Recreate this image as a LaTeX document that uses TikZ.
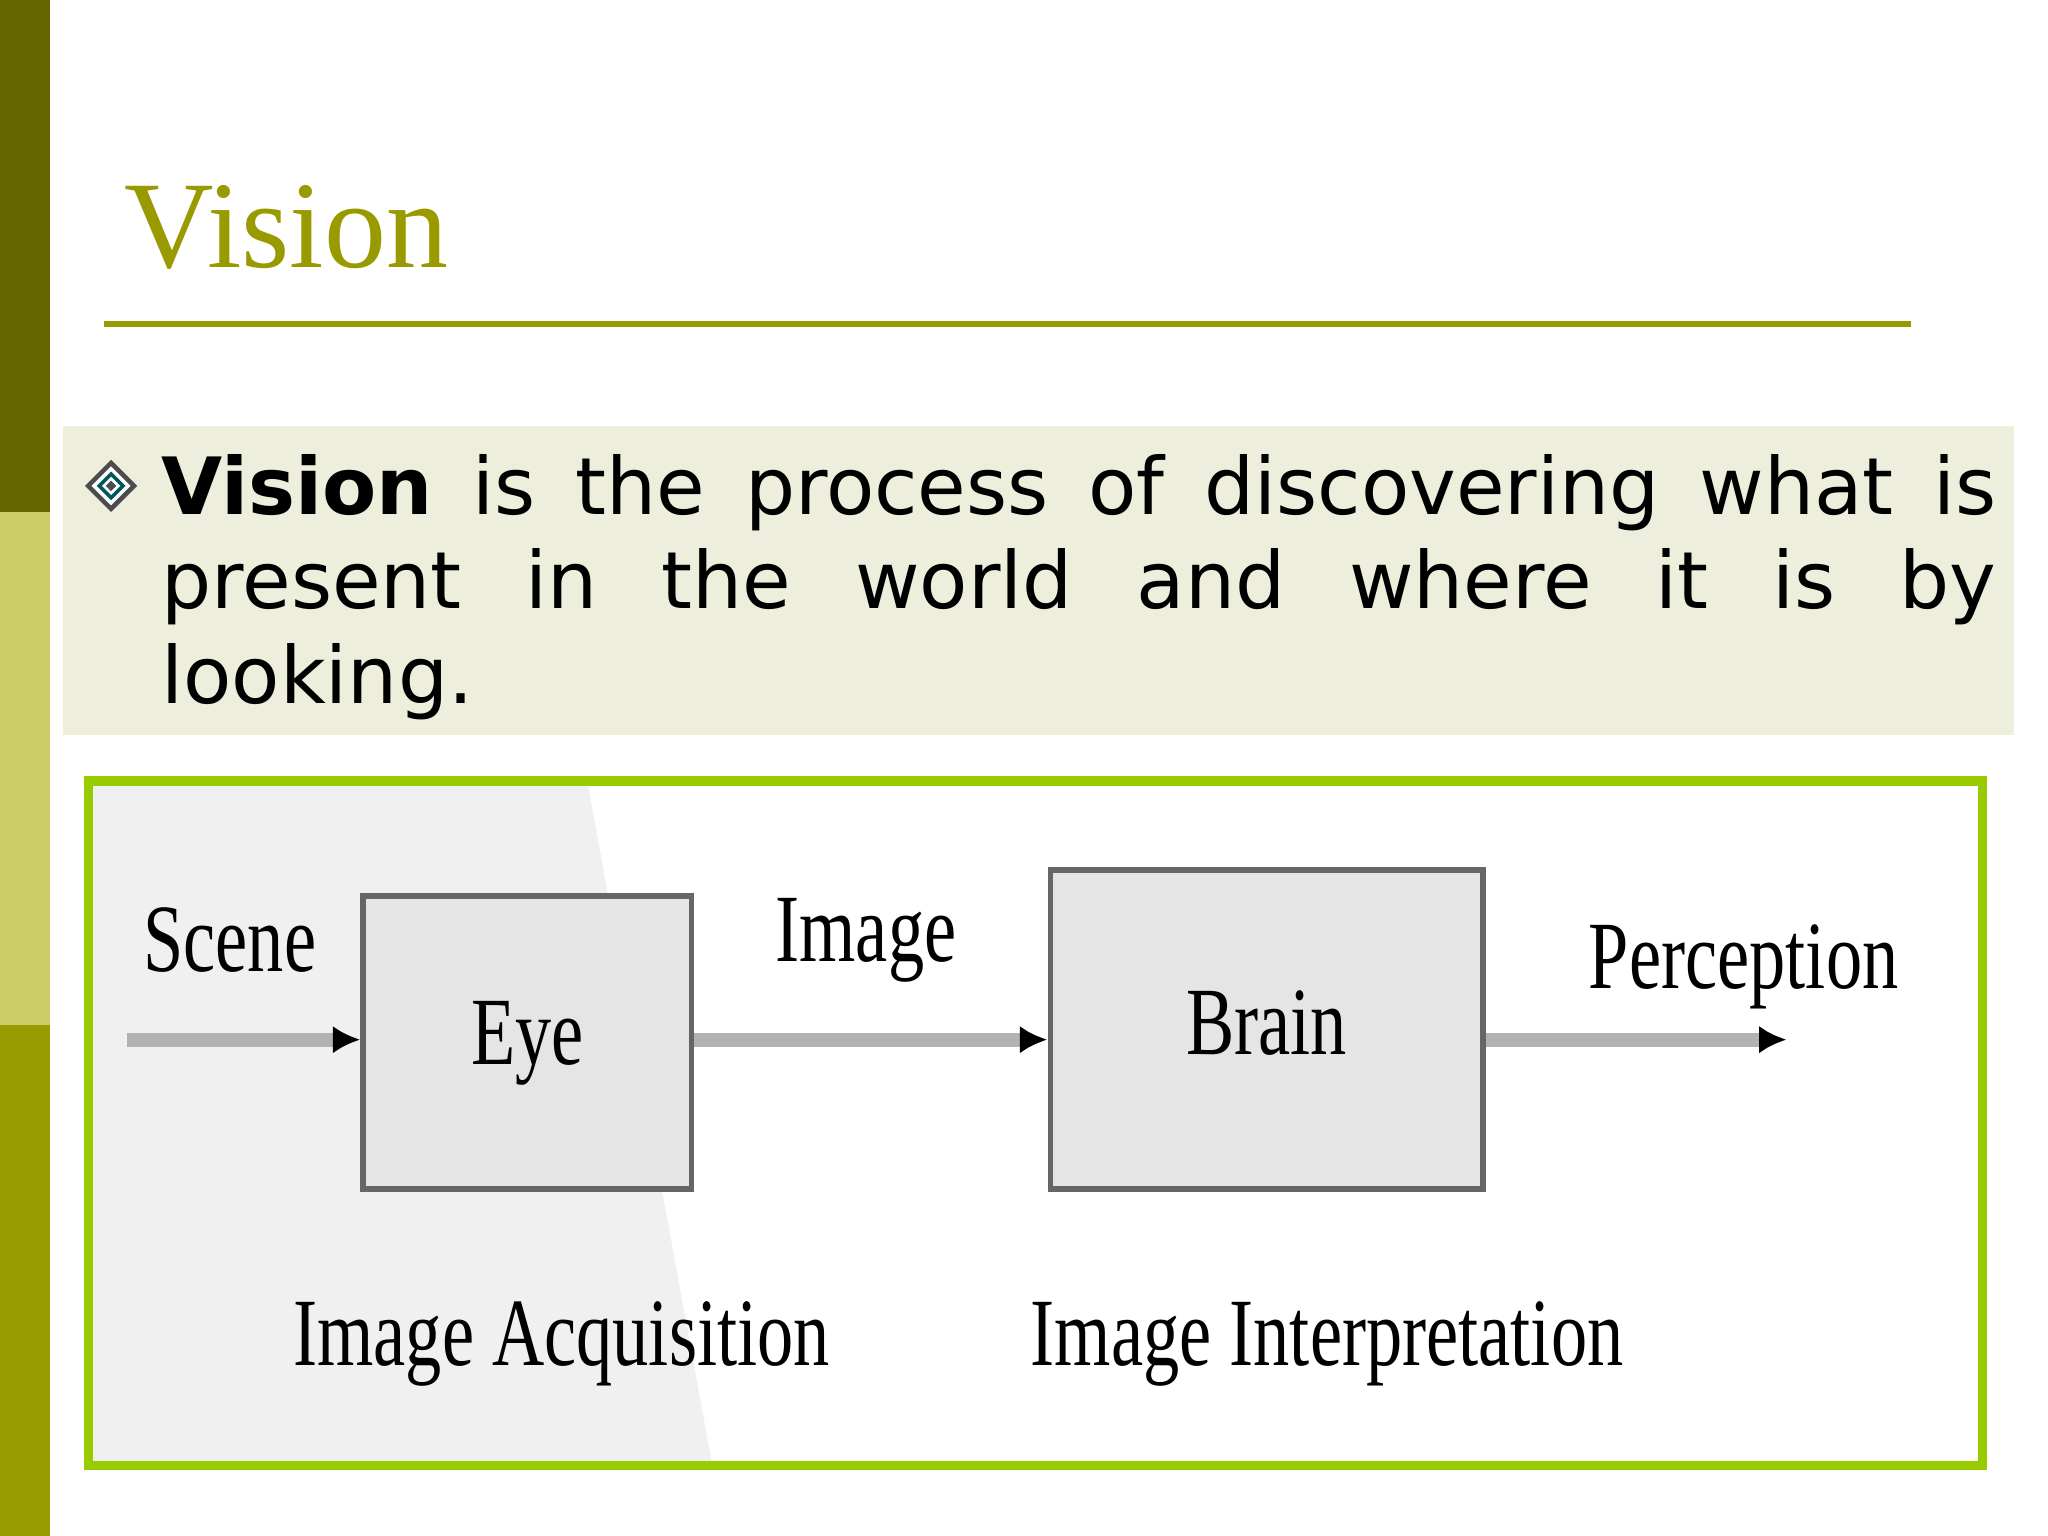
\documentclass[tikz,border=0pt]{standalone}
\usepackage{fontspec}
\setmainfont{Liberation Serif}
\newfontfamily\verd{DejaVu Sans}
\usetikzlibrary{arrows.meta}
\definecolor{olive}{HTML}{999900}
\definecolor{darkolive}{HTML}{666600}
\definecolor{lightolive}{HTML}{CCCC66}
\definecolor{band}{HTML}{EEEEDD}
\definecolor{frame}{HTML}{99CC00}
\tikzset{
  blk/.style={draw=black!60, fill=black!10, line width=1.2pt, anchor=north west, inner sep=0pt},
  lbl/.style={font=\fontsize{21}{23}\selectfont, inner sep=0pt},
  flow/.style={draw=black!30, line width=3pt, -{Latex[black,length=6pt,width=6pt]}}
}
\begin{document}
\begin{tikzpicture}[x=0.01cm,y=-0.01cm]
\useasboundingbox (0,0) rectangle (1568,1176);
\fill[white] (0,0) rectangle (1568,1176);
\fill[darkolive] (0,0) rectangle (38,392);
\fill[lightolive] (0,392) rectangle (38,785);
\fill[olive] (0,785) rectangle (38,1176);
\node[anchor=base west, text=olive, font=\fontsize{27}{30}\selectfont, inner sep=0pt] (title) at (95,205) {Vision};
\draw[olive, line width=1.3pt] (80,248) -- (1463,248);
\fill[band] (48,326) rectangle (1542,563);
% bullet
\foreach \s/\c in {20/black!70,15/white,11/teal!70!black,7/white,4/black!70}
  \fill[\c] (85,372) +(-\s,0) -- +(0,-\s) -- +(\s,0) -- +(0,\s) -- cycle;
\node[anchor=north west, inner sep=0pt, text width=14.04cm, align=justify,
  font=\verd\fontsize{17.2}{20.6}\selectfont] (txt) at (123,347)
  {\textbf{Vision} is the process of discovering what is\linebreak present in the world and where it is by\linebreak looking.};
% diagram
\fill[black!6] (70,600) -- (450,600) -- (545,1120) -- (70,1120) -- cycle;
\draw[frame, line width=2pt] (68,598) rectangle (1518,1122);
\node[blk, minimum width=2.51cm, minimum height=2.24cm] (eye) at (276,684) {};
\node[blk, minimum width=3.31cm, minimum height=2.44cm] (brain) at (802,664) {};
\node[lbl] at ([yshift=-0.01cm]eye.center) {\scalebox{0.75}[1]{Eye}};
\node[lbl] at ([yshift=0.05cm]brain.center) {\scalebox{0.75}[1]{Brain}};
\coordinate (s) at (97,796);
\coordinate (p) at (1368,796);
\draw[flow] (s) -- (eye.west|-s);
\draw[flow] (eye.east|-s) -- (brain.west|-s);
\draw[flow] (brain.east|-s) -- (p);
\node[lbl] (scene) at (176,720) {\scalebox{0.75}[1]{Scene}};
\node[lbl] (image) at (663,720) {\scalebox{0.75}[1]{Image}};
\node[lbl] (perc) at (1335,740) {\scalebox{0.75}[1]{Perception}};
\node[lbl] (acq) at (430,1029) {\scalebox{0.75}[1]{Image Acquisition}};
\node[lbl] (interp) at (1016,1029) {\scalebox{0.75}[1]{Image Interpretation}};
\end{tikzpicture}
\end{document}
